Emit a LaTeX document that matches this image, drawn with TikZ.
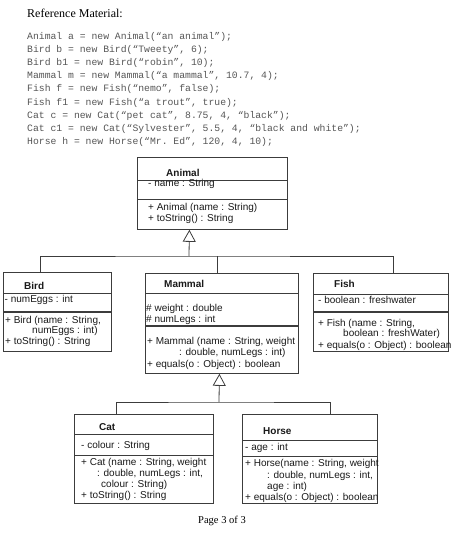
\documentclass[tikz,border=0pt]{standalone}
\usepackage{fontspec}
\setmainfont{Liberation Serif}
\setsansfont{Liberation Sans}
\setmonofont{Liberation Mono}
\usetikzlibrary{arrows.meta}

\definecolor{linegray}{RGB}{60,60,60}
\definecolor{codegray}{RGB}{85,85,85}
\definecolor{inkblack}{RGB}{25,25,25}

\tikzset{
  klass/.style={draw=linegray, line width=0.8pt, anchor=north west, inner sep=0pt},
  ktitle/.style={font=\sffamily\bfseries\fontsize{10}{12}\selectfont, text=inkblack, anchor=base west, inner sep=0pt},
  kitem/.style={font=\sffamily\fontsize{10}{12}\selectfont, text=inkblack, anchor=base west, inner sep=0pt},
  codeline/.style={font=\ttfamily\fontsize{9.75}{12}\selectfont, text=codegray, anchor=base west, inner sep=0pt},
  link/.style={draw=linegray, line width=0.8pt},
  inherit/.style={-{Triangle[open, length=12pt, width=13pt]}}
}

\begin{document}
\begin{tikzpicture}[x=1pt, y=-1pt]
  \useasboundingbox (0,0) rectangle (474,541);

  % 見出し
  \node[anchor=base west, inner sep=0pt, font=\fontsize{12}{14}\selectfont] (heading) at (27,17) {Reference Material:};

  % コード
  \foreach \ln [count=\i] in {
    {Animal a = new Animal(“an animal”);},
    {Bird b = new Bird(“Tweety”, 6);},
    {Bird b1 = new Bird(“robin”, 10);},
    {Mammal m = new Mammal(“a mammal”, 10.7, 4);},
    {Fish f = new Fish(“nemo”, false);},
    {Fish f1 = new Fish(“a trout”, true);},
    {Cat c = new Cat(“pet cat”, 8.75, 4, “black”);},
    {Cat c1 = new Cat(“Sylvester”, 5.5, 4, “black and white”);},
    {Horse h = new Horse(“Mr. Ed”, 120, 4, 10);}}
    \node[codeline] (code\i) at (27,{26.4+13.1*\i}) {\ln};

  % Animal
  \node[klass, minimum width=150pt, minimum height=72pt] (animal) at (137,157) {};
  \draw[link] (137,180) -- (287,180);
  \draw[link] (137,199) -- (287,199);
  \node[ktitle] (animal-t) at (166,176.5) {Animal};
  \node[kitem] (animal-a1) at (148,186.5) {- name : String};
  \node[kitem] (animal-m1) at (148,210.5) {+ Animal (name : String)};
  \node[kitem] (animal-m2) at (148,221.5) {+ toString() : String};

  % Bird
  \node[klass, minimum width=108pt, minimum height=79pt] (bird) at (3,272) {};
  \draw[link] (3,293) -- (111,293);
  \draw[link, line width=1.6pt] (3,312) -- (111,312);
  \node[ktitle] (bird-t) at (24,289.5) {Bird};
  \node[kitem] (bird-a1) at (4.5,302.5) {- numEggs : int};
  \node[kitem] (bird-m1) at (5,323.5) {+ Bird (name : String,};
  \node[kitem] (bird-m2) at (32,333.5) {numEggs : int)};
  \node[kitem] (bird-m3) at (5,344.5) {+ toString() : String};

  % Mammal
  \node[klass, minimum width=153pt, minimum height=100pt] (mammal) at (145,273) {};
  \draw[link] (145,293) -- (298,293);
  \draw[link, line width=1.6pt] (145,326) -- (298,326);
  \node[ktitle] (mammal-t) at (164,287.5) {Mammal};
  \node[kitem] (mammal-a1) at (146,311.5) {\# weight : double};
  \node[kitem] (mammal-a2) at (146,322.5) {\# numLegs : int};
  \node[kitem] (mammal-m1) at (147,344.5) {+ Mammal (name : String, weight};
  \node[kitem] (mammal-m2) at (179,355.5) {: double, numLegs : int)};
  \node[kitem] (mammal-m3) at (147,367.5) {+ equals(o : Object) : boolean};

  % Fish
  \node[klass, minimum width=135pt, minimum height=78pt] (fish) at (313,273) {};
  \draw[link] (313,294) -- (448,294);
  \draw[link, line width=1.6pt] (313,312) -- (448,312);
  \node[ktitle] (fish-t) at (334,287.5) {Fish};
  \node[kitem] (fish-a1) at (318,303.5) {- boolean : freshwater};
  \node[kitem] (fish-m1) at (318,326.5) {+ Fish (name : String,};
  \node[kitem] (fish-m2) at (343,336.5) {boolean : freshWater)};
  \node[kitem] (fish-m3) at (318,348.5) {+ equals(o : Object) : boolean};

  % Cat
  \node[klass, minimum width=139pt, minimum height=89pt] (cat) at (74,414) {};
  \draw[link] (74,434) -- (213,434);
  \draw[link] (74,455) -- (213,455);
  \node[ktitle] (cat-t) at (99,430.5) {Cat};
  \node[kitem] (cat-a1) at (81,448.5) {- colour : String};
  \node[kitem] (cat-m1) at (81,465.5) {+ Cat (name : String, weight};
  \node[kitem] (cat-m2) at (97,476.5) {: double, numLegs : int,};
  \node[kitem] (cat-m3) at (101,487.5) {colour : String)};
  \node[kitem] (cat-m4) at (81,498.5) {+ toString() : String};

  % Horse
  \node[klass, minimum width=135pt, minimum height=89pt] (horse) at (242,414) {};
  \draw[link] (242,440) -- (377,440);
  \draw[link] (242,456) -- (377,456);
  \node[ktitle] (horse-t) at (263,434.5) {Horse};
  \node[kitem] (horse-a1) at (245,450.5) {- age : int};
  \node[kitem] (horse-m1) at (245,466.5) {+ Horse(name : String, weight};
  \node[kitem] (horse-m2) at (267,478.5) {: double, numLegs : int,};
  \node[kitem] (horse-m3) at (267,489.5) {age : int)};
  \node[kitem] (horse-m4) at (245,500.5) {+ equals(o : Object) : boolean};

  % 継承の線 (Animal)
  \coordinate (j1) at (189,256);
  \draw[link] ([xshift=-17pt]bird.north) |- (j1) -| ([xshift=12.5pt]fish.north);
  \draw[link, line width=1.4pt] ([xshift=-4.5pt]mammal.north) -- ([xshift=-4.5pt]mammal.north |- j1);
  \draw[link, inherit] (j1) -- ([xshift=-23pt]animal.south);

  % 継承の線 (Mammal)
  \coordinate (j2) at (219,402);
  \draw[link] ([xshift=-27.5pt]cat.north) |- (j2) -| ([xshift=20.5pt]horse.north);
  \draw[link, inherit] (j2) -- ([xshift=-2.5pt]mammal.south);

  % ページ番号
  \node[anchor=base, inner sep=0pt, font=\fontsize{10.5}{12}\selectfont] (page) at (222,523.5) {Page 3 of 3};
\end{tikzpicture}
\end{document}
